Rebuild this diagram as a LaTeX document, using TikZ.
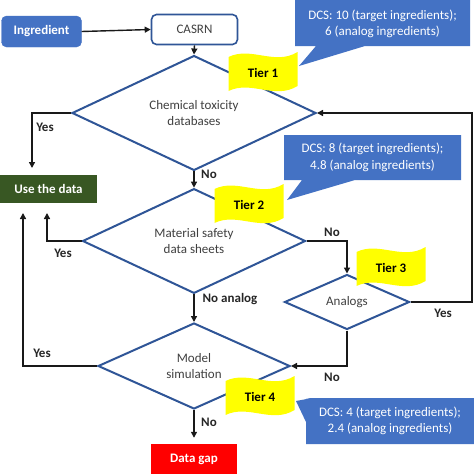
\documentclass[tikz,border=0pt]{standalone}
\usepackage{fontspec}
\setmainfont{Carlito}
\usetikzlibrary{shapes.geometric,arrows.meta}
\definecolor{boxblue}{HTML}{4472C4}
\definecolor{dblue}{HTML}{2F5597}
\definecolor{dgreen}{HTML}{385723}
\definecolor{gapred}{HTML}{FF0000}
\definecolor{tieryellow}{HTML}{FFFF00}
\definecolor{txtgray}{HTML}{404040}
\newcommand{\tierflag}[4]{%
  \fill[tieryellow, shift={(#2,#3)}] (-34.5,-16) .. controls (-12,-27) and (12,-7) .. (34.5,-21)
     -- (34.5,13) .. controls (12,27) and (-12,7) .. (-34.5,18) -- cycle;
  \node[tiertxt] (#1) at (#2,#3) {#4};}
\begin{document}
\begin{tikzpicture}[x=1pt,y=-1pt,
  font=\fontsize{13}{16.5}\selectfont,
  conn/.style={draw=black!90, line width=1.4pt},
  arr/.style={conn, -{Triangle[length=6pt,width=6pt]}},
  diam/.style={diamond, draw=dblue, line width=2pt, fill=white, inner sep=0pt, align=center, text=txtgray},
  lab/.style={font=\fontsize{13}{16}\selectfont\bfseries, text=black!85},
  tiertxt/.style={font=\fontsize{13}{16}\selectfont\bfseries, text=black},
  calltxt/.style={text=white, align=center},
  whitebold/.style={font=\fontsize{13}{16}\selectfont\bfseries, text=white}]
\useasboundingbox[fill=white] (0,0) rectangle (474,474);

% boxes
\node[draw=boxblue, fill=boxblue, rounded corners=5pt, minimum width=80pt, minimum height=31pt, whitebold] (ing) at (41.5,31.5) {Ingredient};
\node[draw=dblue, line width=1.6pt, fill=white, rounded corners=5pt, minimum width=86pt, minimum height=30pt, text=txtgray] (cas) at (194.5,29.5) {CASRN};
\node[fill=dgreen, minimum width=97pt, minimum height=28pt, whitebold] (use) at (48.5,189) {Use the data};
\node[fill=gapred, minimum width=86pt, minimum height=30pt, whitebold] (gap) at (194,459) {Data gap};

% diamonds
\node[diam, minimum width=244pt, minimum height=95pt] (d1) at (194,113) {Chemical toxicity\\databases};
\node[diam, minimum width=223pt, minimum height=88pt] (d2) at (194,241) {Material safety\\data sheets};
\node[diam, minimum width=125pt, minimum height=55pt] (d4) at (347,302) {Analogs};
\node[diam, minimum width=192pt, minimum height=86pt] (d3) at (194,366) {Model\\simulation};

% free ends
\coordinate (u1) at (32,168);
\coordinate (u2) at (47,213);
\coordinate (u3) at (23,213);
\coordinate (r1) at (472,302);
\coordinate (r2) at (472,113);

% connectors
\draw[arr] (ing.east) -- (cas.west);
\draw[arr] (cas.south) -- (d1.north);
\draw[arr] (d1.west) -| (u1);
\draw[arr] (d1.south) -- (d2.north);
\draw[arr] (d2.west) -| (u2);
\draw[arr] (d2.east) -| (d4.north);
\draw[arr] (d4.east) -- (r1) -- (r2) -- (d1.east);
\draw[arr] (d4.south) |- (d3.east);
\draw[arr] (d2.south) -- (d3.north);
\draw[arr] (d3.west) -| (u3);
\draw[arr, shorten >=6pt] (d3.south) -- (gap.north);

% labels
\node[lab] (l1) at (45,127) {Yes};
\node[lab] (l2) at (209,174) {No};
\node[lab] (l3) at (63,253) {Yes};
\node[lab] (l4) at (332,232) {No};
\node[lab] (l5) at (443,313) {Yes};
\node[lab] (l6) at (332,377) {No};
\node[lab] (l7) at (230,299) {No analog};
\node[lab] (l8) at (42,353) {Yes};
\node[lab] (l9) at (209,422) {No};

% tier flags
\tierflag{t1}{263}{73}{Tier 1}
\tierflag{t2}{249}{205}{Tier 2}
\tierflag{t3}{391}{268}{Tier 3}
\tierflag{t4}{260}{397}{Tier 4}

% callouts
\fill[boxblue] (295,0) -- (470,0) -- (470,46) -- (365,46) -- (299,66) -- (316,46) -- (295,46) -- cycle;
\node[calltxt] (c1) at (382.5,24) {DCS: 10 (target ingredients);\\6 (analog ingredients)};
\fill[boxblue] (284,135) -- (461,135) -- (461,180) -- (355,180) -- (287,200) -- (302,180) -- (284,180) -- cycle;
\node[calltxt] (c2) at (372.5,157.5) {DCS: 8 (target ingredients);\\4.8 (analog ingredients)};
\fill[boxblue] (306,398) -- (474,398) -- (474,444) -- (306,444) -- (306,422) -- (296,401) -- (312,398) -- cycle;
\node[calltxt] (c3) at (390,421) {DCS: 4 (target ingredients);\\2.4 (analog ingredients)};
\end{tikzpicture}
\end{document}
